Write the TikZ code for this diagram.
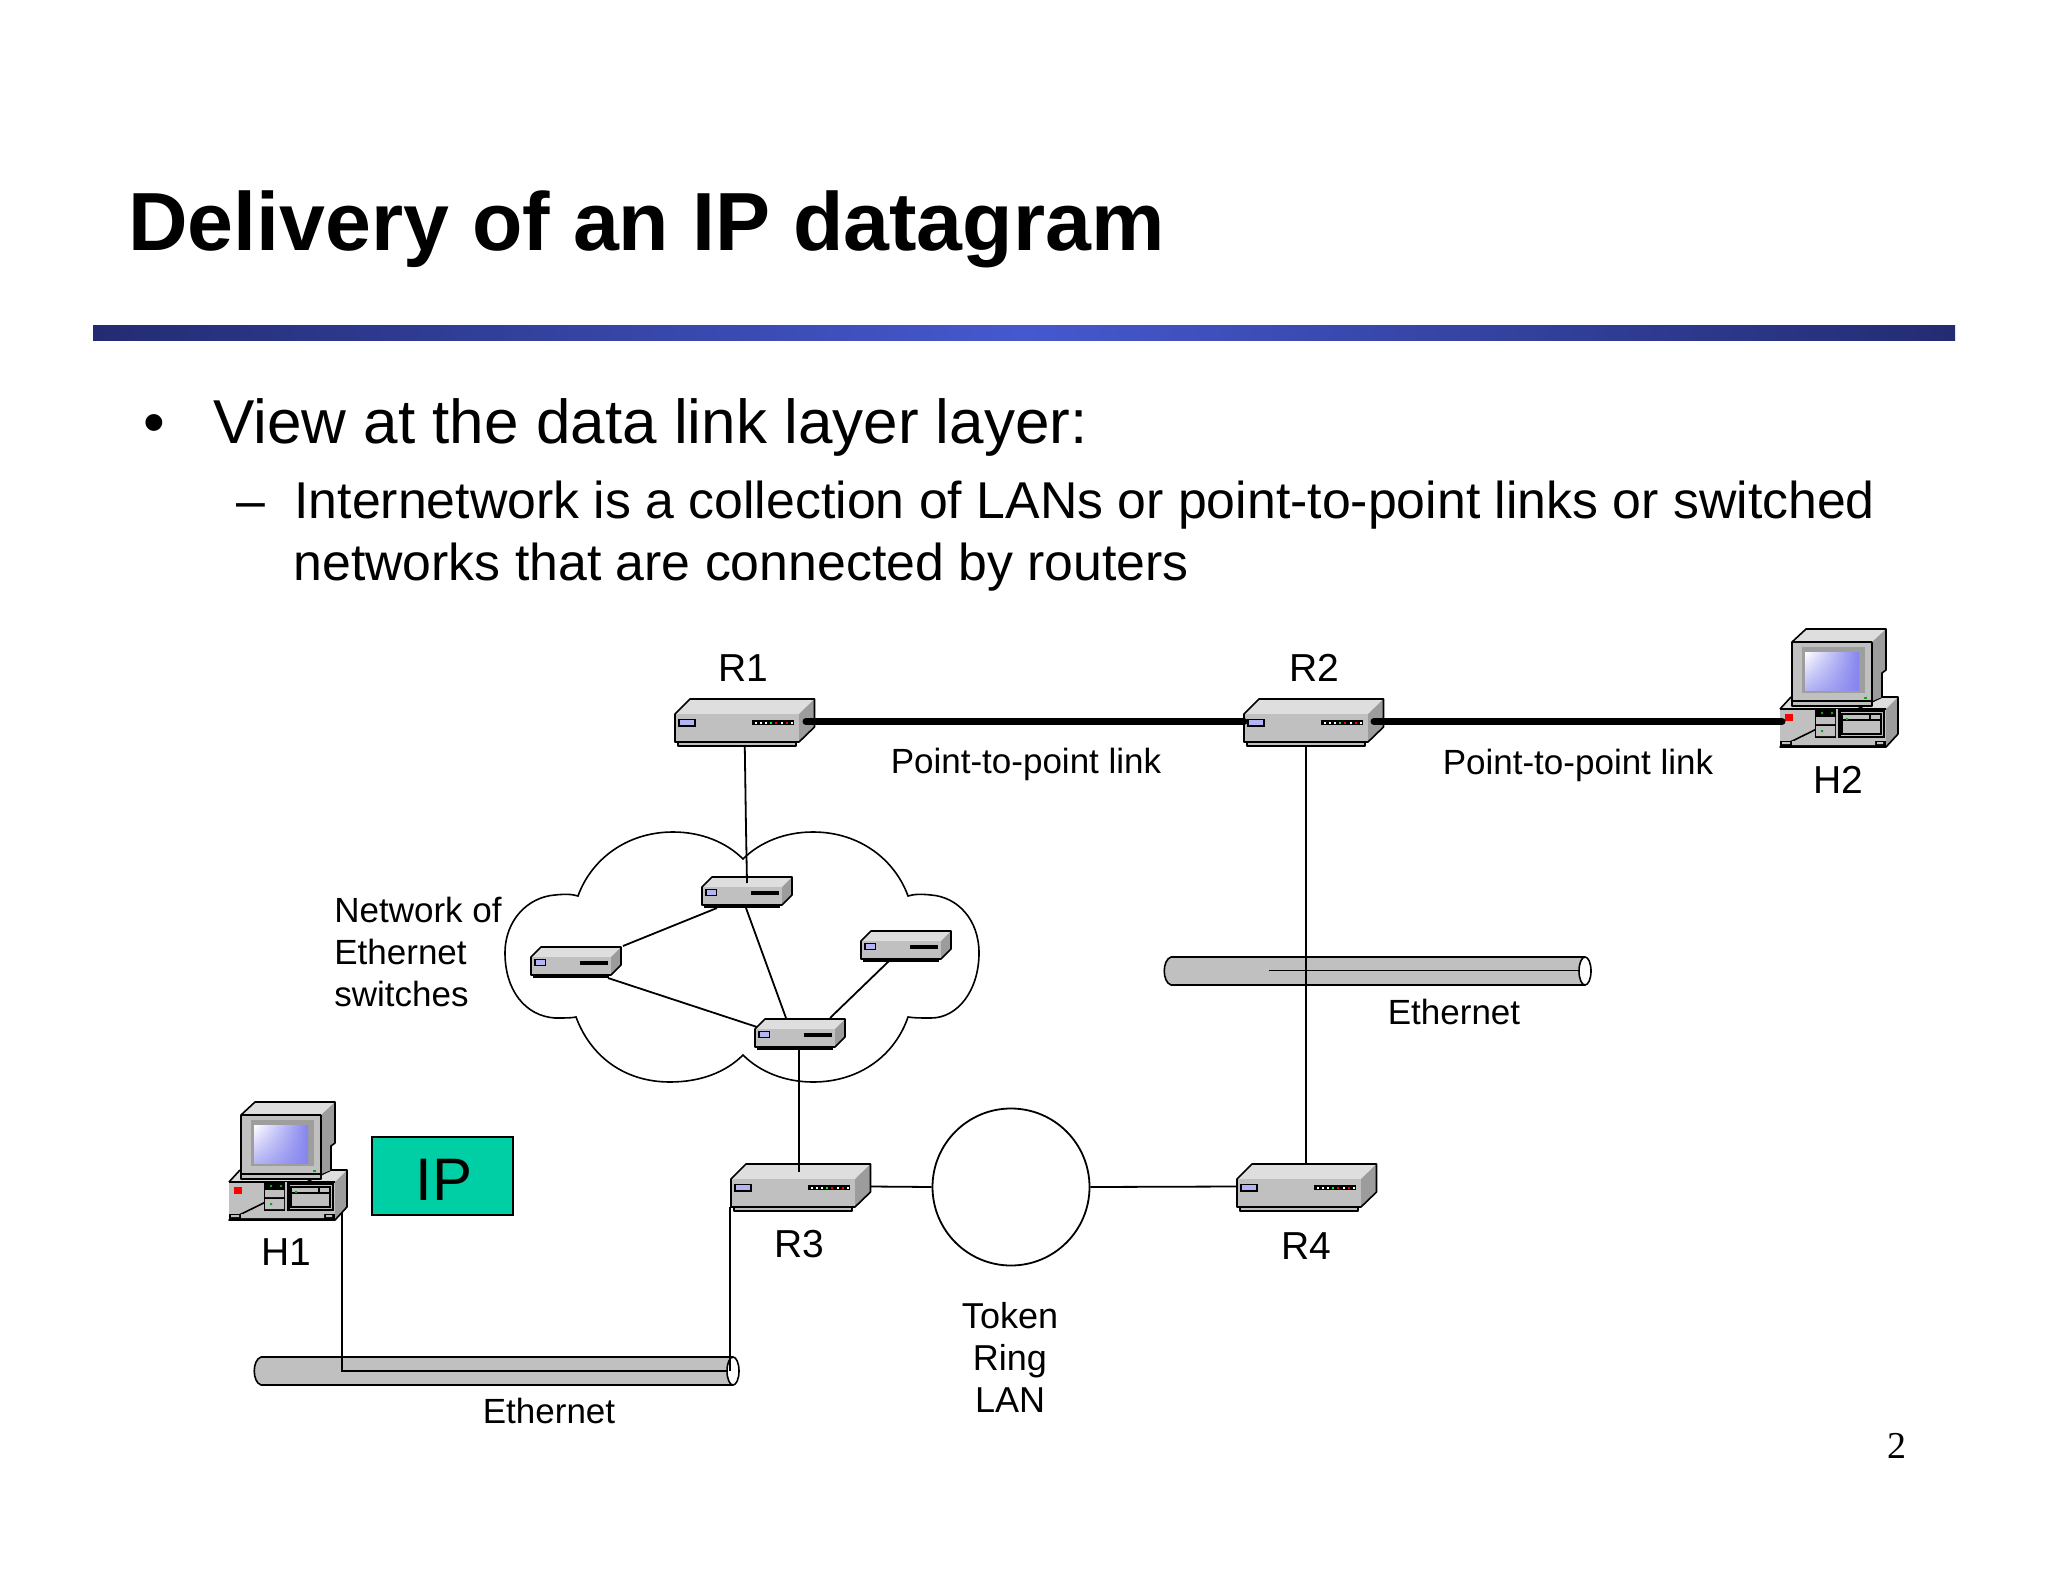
\documentclass[tikz,border=0pt]{standalone}
\usepackage{fontspec}
\usetikzlibrary{shadings}
\setmainfont{Liberation Sans}
\newfontfamily\pagefont{Liberation Serif}
\definecolor{devfront}{HTML}{C0C0C0}
\definecolor{devtop}{HTML}{DEDEDE}
\definecolor{devside}{HTML}{9C9C9C}
\definecolor{portblue}{HTML}{B4B4F4}
\definecolor{barend}{HTML}{232C72}
\definecolor{barmid}{HTML}{4658CE}
\definecolor{ipfill}{HTML}{00CFA6}
\definecolor{screenblue}{HTML}{8484EE}
\tikzset{
  x=0.5pt,y=-0.5pt,
  devbox/.style={inner sep=0pt,outer sep=0pt,draw=none},
  outl/.style={draw=black,line width=0.8pt,line join=round},
  wire/.style={draw=black,line width=0.9pt},
  thickwire/.style={draw=black,line width=3.5pt,line cap=round},
  lab/.style={inner sep=0pt,anchor=base,font=\fontsize{19.5}{23}\selectfont},
  smalllab/.style={inner sep=0pt,font=\fontsize{17.5}{21}\selectfont},
}
% router: origin = top-left corner of the front face
\newcommand\routerdev[3]{%
\begin{scope}[shift={(#2,#3)}]
  \node[devbox,minimum width=69.75pt,minimum height=23.5pt] (#1) at (69.75,7.5) {};
  \filldraw[fill=devfront,outl] (3,28) rectangle (121,32);
  \fill[devtop] (0,0) -- (15,-15) -- (139.5,-15) -- (124,0) -- cycle;
  \fill[devside] (124,0) -- (139.5,-15) -- (139.5,13) -- (124,28) -- cycle;
  \fill[devfront] (0,0) rectangle (124,28);
  \draw[outl] (0,0) -- (15,-15) -- (139.5,-15) -- (139.5,13) -- (124,28) -- (0,28) -- cycle;
  \filldraw[fill=portblue,draw=black,line width=0.6pt] (4,5.5) rectangle (20,12);
  \fill[black] (77,6) rectangle (119,11);
  \foreach \k/\c in {0/white,1/white,2/white,3/green,4/red,5/white,6/red,7/white}
    \fill[\c] (79.5+\k*5.2,7.6) rectangle ++(2,2);
\end{scope}}
% switch: origin = top-left corner of the front face
\newcommand\switchdev[3]{%
\begin{scope}[shift={(#2,#3)}]
  \node[devbox,minimum width=45pt,minimum height=15pt] (#1) at (45,5) {};
  \fill[black] (2,18) rectangle (78,20.5);
  \fill[devtop] (0,0) -- (10,-10) -- (90,-10) -- (80,0) -- cycle;
  \fill[devside] (80,0) -- (90,-10) -- (90,8) -- (80,18) -- cycle;
  \fill[devfront] (0,0) rectangle (80,18);
  \draw[outl] (0,0) -- (10,-10) -- (90,-10) -- (90,8) -- (80,18) -- (0,18) -- cycle;
  \filldraw[fill=portblue,draw=black,line width=0.6pt] (4,2.5) rectangle (14.5,8.5);
  \fill[black] (49,3.5) rectangle (77,7.5);
\end{scope}}
% computer: origin = bottom-left corner of the base front
\newcommand\hostdev[3]{%
\begin{scope}[shift={(#2,#3)}]
  \node[devbox,minimum width=59pt,minimum height=59pt] (#1) at (59,-59) {};
  \fill[devtop] (0,-38) -- (11,-50) -- (118,-50) -- (106,-38) -- cycle;
  \fill[devside] (106,-38) -- (118,-50) -- (118,-13) -- (106,0) -- cycle;
  \fill[devfront] (0,-38) rectangle (106,0);
  \draw[outl] (0,-38) -- (11,-50) (102,-50) -- (118,-50) -- (118,-13) -- (106,0) -- (0,0) -- cycle (0,-38) -- (106,-38);
  \fill[black] (0,-6) rectangle (106,0);
  \fill[devfront] (12,-6) rectangle (95,-2) (2,-5) rectangle (10,-3) (97,-5) rectangle (103,-3);
  \fill[red] (5,-33) rectangle (13,-26);
  \fill[black] (35,-38) rectangle (105,-9);
  \fill[devfront] (36,-30) rectangle (55,-23) (36,-21) rectangle (55,-11);
  \fill[devfront] (56,-38) rectangle (58,-9);
  \fill[devfront] (61,-35) rectangle (103,-11);
  \draw[black,line width=0.6pt] (62,-33) rectangle (101,-13) (62,-27) -- (101,-27) (90,-33) -- (90,-27);
  \fill[green!70!black] (41,-17) rectangle ++(2,2) (41,-35) rectangle ++(2,2) (51,-35) rectangle ++(2,2) (66,-29) rectangle ++(2,2);
  \fill[devtop] (12,-105) -- (26,-118) -- (106,-118) -- (92,-105) -- cycle;
  \fill[devside] (92,-105) -- (106,-118) -- (106,-77) -- (102,-74) -- (102,-50) -- (92,-46) -- cycle;
  \fill[devfront] (12,-105) rectangle (92,-46);
  \draw[outl] (12,-105) -- (26,-118) -- (106,-118) -- (106,-77) -- (102,-74) -- (102,-50) (92,-105) -- (12,-105) -- (12,-46) -- (92,-46) -- (92,-105);
  \filldraw[fill=devfront,outl] (12,-46) rectangle (92,-41);
  \fill[black!38] (22,-100) rectangle (85,-54);
  \shade[upper left=white,upper right=screenblue,lower left=screenblue!60,lower right=screenblue] (25,-95) rectangle (79,-57);
  \fill[green!70!black] (84,-50) rectangle ++(3,2);
\end{scope}}
% cable: left end, ellipse centre, top, bottom
\newcommand\cabledev[5]{%
  \path ({(#2+#3)/2},{(#4+#5)/2}) node[devbox,minimum width={(#3-#2)*0.5pt},minimum height={(#5-#4)*0.5pt}] (#1) {};
  \filldraw[fill=devfront,outl] (#2+9,#4) .. controls (#2,#4+3) and (#2,#5-3) .. (#2+9,#5) -- (#3,#5) -- (#3,#4) -- cycle;
  \filldraw[fill=white,outl] (#3,{(#4+#5)/2}) ellipse [x radius=6,y radius={(#5-#4)/2}];
}
\begin{document}
\begin{tikzpicture}
\useasboundingbox (0,0) rectangle (2048,1582);
\fill[white] (0,0) rectangle (2048,1582);
% header
\node[inner sep=0pt,anchor=base west,font=\fontsize{41.25}{48}\selectfont\bfseries] (title) at (128,251) {Delivery of an IP datagram};
\shade[left color=barend,right color=barend,middle color=barmid] (93,326) rectangle (1955,341);
\node[inner sep=0pt,anchor=base,font=\fontsize{31}{37}\selectfont] (bul) at (154,444) {•};
\node[inner sep=0pt,anchor=base west,font=\fontsize{31}{37}\selectfont] (lead) at (213,444) {View at the data link layer layer:};
\node[inner sep=0pt,anchor=base west,font=\fontsize{25.9}{31}\selectfont] (dash) at (236,519) {–};
\node[inner sep=0pt,anchor=base west,font=\fontsize{25.9}{31}\selectfont] (sub1) at (294,519) {Internetwork is a collection of LANs or point-to-point links or switched};
\node[inner sep=0pt,anchor=base west,font=\fontsize{25.9}{31}\selectfont] (sub2) at (293,581) {networks that are connected by routers};
\node[inner sep=0pt,anchor=base,font=\fontsize{19}{22}\selectfont\pagefont] (pg) at (1897,1458) {2};
% cables
\cabledev{cableA}{1162}{1585}{957}{985}
\cabledev{cableB}{252}{733}{1357}{1385}
% cloud
\draw[line width=0.8pt] (743,859)
  .. controls (760,842) and (785,832) .. (813,832)
  .. controls (860,832) and (895,860) .. (908,896)
  .. controls (914,894) and (922,894) .. (931,895)
  .. controls (958,897) and (979,920) .. (979,953)
  .. controls (979,990) and (958,1018) .. (931,1018)
  .. controls (922,1018) and (914,1018) .. (908,1017)
  .. controls (895,1055) and (860,1082) .. (813,1082)
  .. controls (785,1082) and (760,1072) .. (743,1055)
  .. controls (726,1072) and (701,1082) .. (670,1082)
  .. controls (623,1082) and (590,1055) .. (576,1017)
  .. controls (572,1018) and (564,1018) .. (555,1018)
  .. controls (525,1016) and (505,990) .. (505,953)
  .. controls (505,920) and (528,897) .. (555,895)
  .. controls (564,894) and (572,894) .. (578,896)
  .. controls (591,860) and (626,832) .. (673,832)
  .. controls (701,832) and (726,842) .. (743,859) -- cycle;
% devices
\routerdev{R1}{675}{714}
\routerdev{R2}{1244}{714}
\routerdev{R3}{731}{1179}
\routerdev{R4}{1237}{1179}
\switchdev{S1}{702}{887}
\switchdev{S2}{531}{957}
\switchdev{S3}{861}{941}
\switchdev{S4}{755}{1029}
\hostdev{H1}{229}{1220}
\hostdev{H2}{1780}{747}
\node[draw=black,line width=0.9pt,circle,minimum size=78.5pt,inner sep=0pt] (ring) at (1011,1187) {};
\node[draw=black,line width=0.9pt,fill=ipfill,minimum width=70.5pt,minimum height=39pt,inner sep=0pt] (ipbox) at (442.5,1176) {};
\node[inner sep=0pt,anchor=base,font=\fontsize{30}{36}\selectfont] (iptext) at (444,1200) {IP};
% connector ends
\coordinate (R1p) at (806,721.5);
\coordinate (R2p) at (1374,721.5);
\coordinate (H2p) at (1782,721.5);
\coordinate (R1kink) at (746,829);
\coordinate (S1t) at (747,883);
\coordinate (S1bl) at (717,908);
\coordinate (S1bm) at (746,908);
\coordinate (S2tr) at (623,946);
\coordinate (S2br) at (608,978);
\coordinate (S4tl) at (757,1027);
\coordinate (S4tm) at (786,1018);
\coordinate (S4tr) at (830,1018);
\coordinate (S3b) at (889,961);
\coordinate (S4b) at (799,1049);
\coordinate (R3t) at (799,1172);
\coordinate (R2b) at (1306,745);
\coordinate (R4t) at (1306,1164);
\coordinate (H1b) at (342,1213);
\coordinate (busBa) at (342,1371);
\coordinate (busBb) at (728,1371);
\coordinate (R3b) at (730,1207);
\coordinate (R3down) at (730,1371);
\coordinate (busAa) at (1269,970.5);
\coordinate (busAb) at (1580,970.5);
% connectors
\draw[thickwire] (R1p) -- (R2.west);
\draw[thickwire] (R2p) -- (H2p);
\draw[wire] (R1.south) -- (R1kink) -- (S1t);
\draw[wire] (S1bl) -- (S2tr);
\draw[wire] (S1bm) -- (S4tm);
\draw[wire] (S2br) -- (S4tl);
\draw[wire] (S3b) -- (S4tr);
\draw[wire] (S4b) -- (R3t);
\draw[wire] (R2b) -- (R4t);
\draw[wire] (busAa) -- (busAb);
\draw[wire] (H1b) -- (busBa) -- (busBb);
\draw[wire] (R3b) -- (R3down);
\draw[wire] (R3.east) -- (ring.west);
\draw[wire] (ring.east) -- (R4.west);
% labels
\node[lab] (lR1) at (743,681) {R1};
\node[lab] (lR2) at (1314,681) {R2};
\node[lab] (lR3) at (799,1257) {R3};
\node[lab] (lR4) at (1306,1259) {R4};
\node[lab] (lH1) at (286,1265) {H1};
\node[lab] (lH2) at (1838,793) {H2};
\node[smalllab,anchor=base] (lP1) at (1026,773) {Point-to-point link};
\node[smalllab,anchor=base] (lP2) at (1578,774) {Point-to-point link};
\node[smalllab,anchor=base] (lE1) at (1454,1024) {Ethernet};
\node[smalllab,anchor=base] (lE2) at (549,1423) {Ethernet};
\node[smalllab,anchor=center,align=left] (lnet) at (418,952) {Network of\\Ethernet\\switches};
\node[smalllab,anchor=center,align=center,font=\fontsize{18}{21}\selectfont] (ltok) at (1010,1357) {Token\\Ring\\LAN};
\end{tikzpicture}
\end{document}
